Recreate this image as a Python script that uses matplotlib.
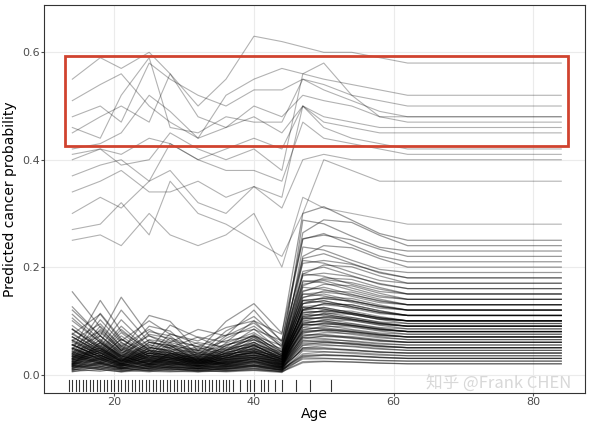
import matplotlib
matplotlib.use("Agg")
import matplotlib.pyplot as plt
from matplotlib.patches import Rectangle

ages = [14,18,21,25,28,32,36,40,44,47,50,54,58,62,72,84]
upper = [
 [0.55,0.59,0.57,0.60,0.56,0.50,0.55,0.63,0.62,0.61,0.60,0.60,0.59,0.58,0.58,0.58],
 [0.51,0.54,0.56,0.50,0.47,0.44,0.52,0.55,0.57,0.56,0.55,0.54,0.53,0.52,0.52,0.52],
 [0.48,0.50,0.47,0.58,0.55,0.52,0.50,0.53,0.53,0.55,0.54,0.52,0.51,0.50,0.50,0.50],
 [0.46,0.44,0.52,0.59,0.46,0.45,0.48,0.47,0.47,0.55,0.53,0.51,0.49,0.48,0.48,0.48],
 [0.45,0.48,0.50,0.47,0.56,0.48,0.46,0.50,0.48,0.52,0.51,0.50,0.48,0.48,0.48,0.48],
 [0.42,0.43,0.45,0.52,0.49,0.44,0.46,0.48,0.45,0.50,0.48,0.47,0.46,0.46,0.46,0.46],
 [0.41,0.42,0.41,0.44,0.43,0.40,0.42,0.44,0.42,0.50,0.47,0.46,0.45,0.45,0.45,0.45],
 [0.40,0.42,0.39,0.40,0.45,0.42,0.40,0.42,0.38,0.56,0.58,0.52,0.48,0.47,0.47,0.47],
 [0.37,0.39,0.40,0.36,0.43,0.40,0.38,0.38,0.36,0.47,0.44,0.43,0.42,0.41,0.41,0.41],
 [0.34,0.36,0.38,0.34,0.34,0.36,0.33,0.35,0.33,0.50,0.46,0.44,0.43,0.42,0.42,0.42],
 [0.30,0.33,0.31,0.36,0.38,0.32,0.30,0.35,0.31,0.40,0.41,0.40,0.40,0.40,0.40,0.40],
 [0.27,0.28,0.32,0.26,0.36,0.30,0.28,0.25,0.22,0.30,0.40,0.38,0.36,0.36,0.36,0.36],
 [0.25,0.26,0.24,0.30,0.26,0.24,0.26,0.30,0.20,0.33,0.31,0.30,0.29,0.28,0.28,0.28],
]
shapes = [
 [0.30,0.45,0.25,0.40,0.30,0.25,0.35,0.40,0.30,1.20,1.25,1.15,1.05,1.0,1.0,1.0],
 [0.50,0.30,0.60,0.30,0.25,0.35,0.30,0.50,0.25,1.10,1.20,1.18,1.08,1.0,1.0,1.0],
 [0.20,0.60,0.35,0.20,0.40,0.30,0.20,0.30,0.15,1.25,1.22,1.12,1.03,1.0,1.0,1.0],
 [0.70,0.40,0.20,0.50,0.45,0.20,0.45,0.60,0.35,1.15,1.18,1.14,1.06,1.0,1.0,1.0],
]
levels = [0.25,0.24,0.23,0.22,0.21,0.20,0.19,0.18,0.18,0.17,0.17,0.16,0.16,0.15,0.15,
          0.15,0.14,0.14,0.14,0.13,0.13,0.13,0.13,0.12,0.12,0.12,0.12,0.12,0.11,0.11,
          0.11,0.11,0.11,0.11,0.10,0.10,0.10,0.10,0.10,0.10,0.10,0.095,0.095,0.09,0.09,
          0.09,0.09,0.09,0.09,0.085,0.085,0.08,0.08,0.08,0.08,0.08,0.08,0.075,0.075,0.07,
          0.07,0.07,0.07,0.07,0.065,0.065,0.06,0.06,0.06,0.06,0.055,0.055,0.05,0.05,0.05,
          0.05,0.045,0.045,0.04,0.04,0.04,0.035,0.035,0.03,0.03,0.03,0.025,0.025,0.02,0.02]
rug = [13.5,14,14.5,15,15.5,16,16.5,17,17.5,18,18.5,19,19.5,20,20.5,21,21.5,22,22.5,23,
       23.5,24,24.5,25,25.5,26,26.5,27,27.5,28,28.5,29,29.5,30,30.5,31,31.5,32,32.5,33,
       33.5,34,34.5,35,35.5,36,36.5,37,38,39,39.5,40,41,41.5,42,43,44,46,48,51]

fig, ax = plt.subplots(figsize=(6.0, 4.21), dpi=100)
fig.subplots_adjust(left=0.074, right=0.975, top=0.988, bottom=0.067)
for i, lv in enumerate(levels):
    s = shapes[i % 4]
    ax.plot(ages, [lv * v for v in s], color="black", alpha=0.4, lw=0.9)
for row in upper:
    ax.plot(ages, row, color="black", alpha=0.3, lw=0.8)
for r in rug:
    ax.plot([r, r], [-0.031, -0.01], color="black", lw=0.8, alpha=0.8)
ax.add_patch(Rectangle((13, 0.425), 72, 0.168, fill=False, ec="#d0432f", lw=2, zorder=5))
ax.set_xlim(10, 87.4)
ax.set_ylim(-0.034, 0.688)
ax.set_xticks([20, 40, 60, 80])
ax.set_yticks([0.0, 0.2, 0.4, 0.6])
ax.set_yticklabels(["0.0", "0.2", "0.4", "0.6"])
ax.set_xlabel("Age", fontsize=10, labelpad=0)
ax.set_ylabel("Predicted cancer probability", fontsize=10)
ax.tick_params(labelsize=8, colors="#4d4d4d", length=2, pad=1)
ax.grid(True, color="#ebebeb", lw=0.8)
ax.set_axisbelow(True)
for sp in ax.spines.values():
    sp.set_color("#333333")
fig.text(0.71, 0.078, "知乎 @Frank CHEN", fontsize=12, color="#d8d8d8",
         family=["Noto Sans CJK SC", "DejaVu Sans"])
fig.savefig("out.png")
